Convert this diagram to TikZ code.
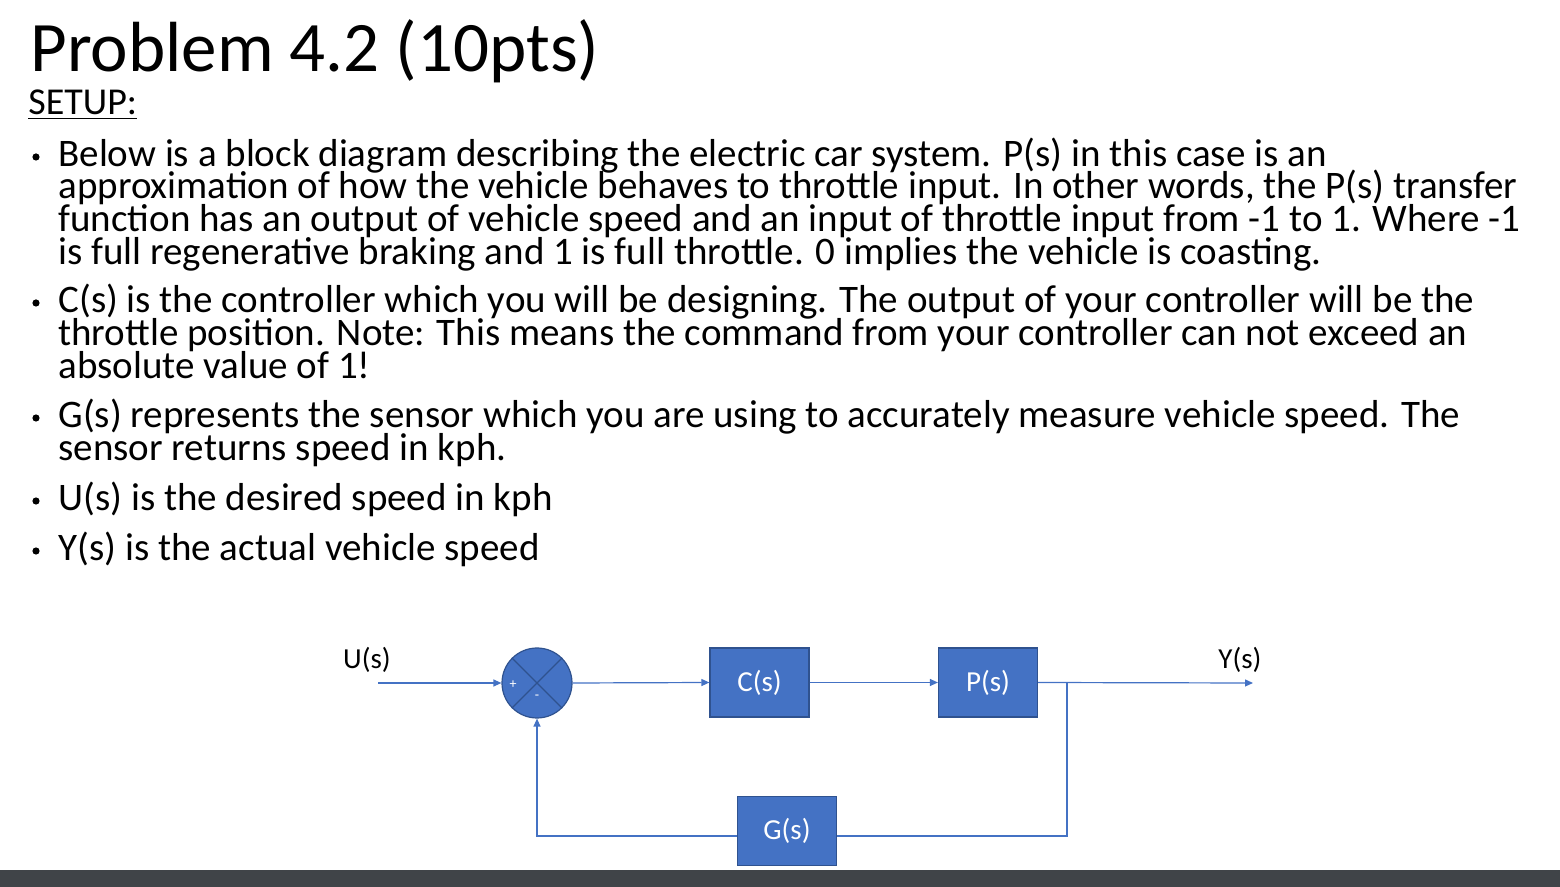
\documentclass[tikz,border=0pt]{standalone}
\usepackage{fontspec}
\setmainfont{Carlito}
\usetikzlibrary{arrows.meta}
\definecolor{bfill}{HTML}{4472C4}
\definecolor{bdraw}{HTML}{2F528F}
\definecolor{strip}{HTML}{404448}
\begin{document}
\begin{tikzpicture}[x=0.5pt,y=-0.5pt,
  blk/.style={draw=bdraw,fill=bfill,line width=0.6pt,minimum width=49.5pt,minimum height=34.5pt,text=white,font=\fontsize{14.5}{16}\selectfont,inner sep=0pt},
  wire/.style={draw=bfill,line width=0.6pt},
  arr/.style={wire,-{Triangle[length=4pt,width=3.5pt]}},
  body/.style={anchor=base west,inner sep=0pt,font=\fontsize{19.5}{20}\selectfont}]
\useasboundingbox (0,0) rectangle (1560,887);
\fill[strip] (0,870) rectangle (1560,887);
\node[anchor=base west,inner sep=0pt,font=\fontsize{35.5}{40}\selectfont] (title) at (30,72) {Problem 4.2 (10pts)};
\node[anchor=base west,inner sep=0pt,font=\fontsize{19}{20}\selectfont] (setup) at (28,115) {\underline{SETUP:}};
\foreach \y in {167,313,428,511,561} {\fill (36,\y-10) circle (3.6);}
\node[body] (t1a) at (58,167) {Below is a block diagram describing the electric car system. P(s) in this case is an};
\node[body] (t1b) at (58,199) {approximation of how the vehicle behaves to throttle input. In other words, the P(s) transfer};
\node[body] (t1c) at (58,232) {function has an output of vehicle speed and an input of throttle input from -1 to 1. Where -1};
\node[body] (t1d) at (58,265) {is full regenerative braking and 1 is full throttle. 0 implies the vehicle is coasting.};
\node[body] (t2a) at (58,313) {C(s) is the controller which you will be designing. The output of your controller will be the};
\node[body] (t2b) at (58,346) {throttle position. Note: This means the command from your controller can not exceed an};
\node[body] (t2c) at (58,379) {absolute value of 1!};
\node[body] (t3a) at (58,428) {G(s) represents the sensor which you are using to accurately measure vehicle speed. The};
\node[body] (t3b) at (58,461) {sensor returns speed in kph.};
\node[body] (t4) at (58,511) {U(s) is the desired speed in kph};
\node[body] (t5) at (58,561) {Y(s) is the actual vehicle speed};
% diagram
\node[circle,draw=bdraw,fill=bfill,line width=0.6pt,minimum size=35pt,inner sep=0pt] (sum) at (537,683) {};
\draw[bdraw,line width=0.6pt] (sum.north west)--(sum.south east) (sum.north east)--(sum.south west);
\node[text=white,font=\fontsize{7}{8}\selectfont,inner sep=0pt] (plus) at (513,685) {+};
\node[text=white,font=\fontsize{7}{8}\selectfont,inner sep=0pt] (minus) at (537,697) {-};
\node[blk] (C) at (759.5,682.5) {\raisebox{-1.5pt}{C(s)}};
\node[blk] (P) at (988,682.5) {\raisebox{-1.5pt}{P(s)}};
\node[blk] (G) at (787,831) {\raisebox{-1.5pt}{G(s)}};
\coordinate (uin) at (378,683);
\coordinate (yout) at (1253,683);
\coordinate (br) at (1067,683);
\coordinate (gr) at (1067,836);
\coordinate (gl) at (537,836);
\node[font=\fontsize{14.5}{16}\selectfont,inner sep=0pt] (ul) at (367,660) {U(s)};
\node[font=\fontsize{14.5}{16}\selectfont,inner sep=0pt] (yl) at (1240,660) {Y(s)};
\draw[arr] (uin) -- (sum.west);
\draw[arr] (sum.east) -- (C.west);
\draw[arr] (C.east) -- (P.west);
\draw[arr] (P.east) -- (yout);
\draw[wire] (br) -- (gr) -- (G.east |- gr);
\draw[arr] (G.west |- gl) -- (gl) -- (sum.south);
\end{tikzpicture}
\end{document}
